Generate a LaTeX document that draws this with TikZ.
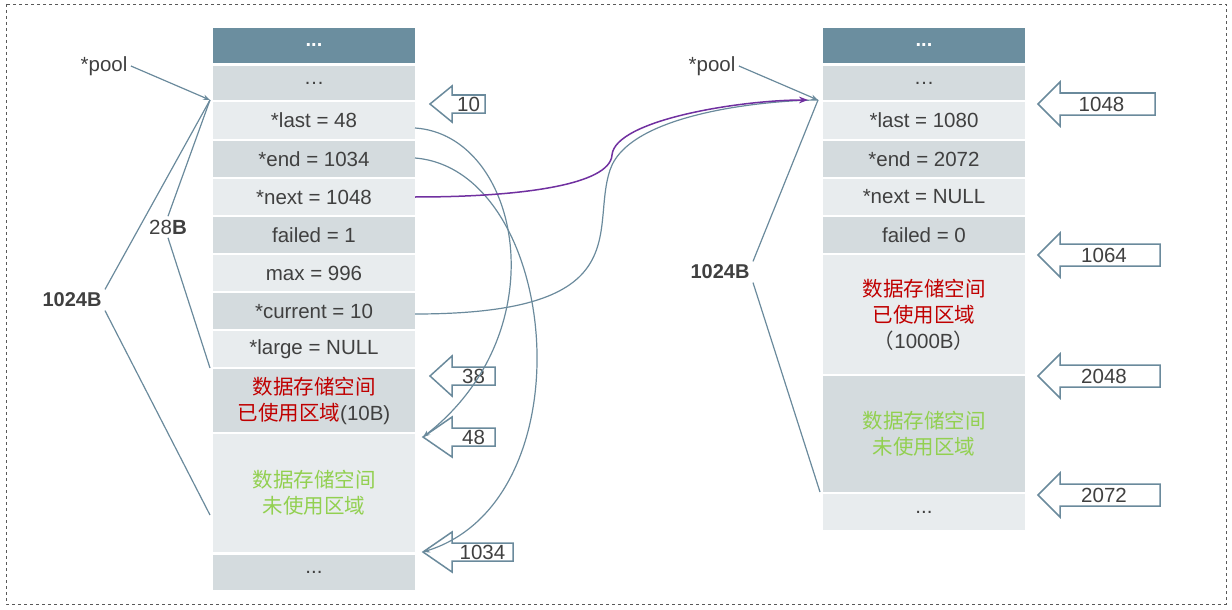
\documentclass[tikz,border=0pt]{standalone}
\usepackage{fontspec}
\setmainfont{Liberation Sans}
\newfontfamily\cjk{Noto Sans CJK SC}
\usetikzlibrary{arrows.meta}
\definecolor{hdr}{HTML}{6B8E9F}
\definecolor{gr}{HTML}{D4DBDE}
\definecolor{lt}{HTML}{E8ECEE}
\definecolor{ln}{HTML}{6A8A9C}
\definecolor{pur}{HTML}{7030A0}
\definecolor{txt}{HTML}{404040}
\definecolor{redt}{HTML}{C00000}
\definecolor{grn}{HTML}{92D050}
\begin{document}
\begin{tikzpicture}[x=1pt,y=-1pt,font=\fontsize{20.5}{26}\selectfont,
  cell/.style={text=txt,align=center},
  conn/.style={draw=ln,line width=1.2pt},
  barrow/.style={draw=ln,line width=1.5pt,fill=white}]
\useasboundingbox (0,0) rectangle (1232,610);
\draw[dashed,gray!70!black] (6,4) rectangle (1226,604);
% left column
\newcommand{\cellL}[5]{\fill[#3] (213,#1) rectangle (415,#2); \node[cell] (#4) at (314,{(#1+#2)/2}) {#5};}
\fill[hdr] (213,28) rectangle (415,63); \node[text=white,font=\bfseries\fontsize{20}{23}\selectfont] (lh) at (314,45) {...};
\cellL{66}{100}{gr}{l0}{\dots}
\cellL{102}{139}{lt}{llast}{*last = 48}
\cellL{141}{177}{gr}{lend}{*end = 1034}
\cellL{179}{215}{lt}{lnext}{*next = 1048}
\cellL{217}{253}{gr}{lfail}{failed = 1}
\cellL{255}{291}{lt}{lmax}{max = 996}
\cellL{293}{329}{gr}{lcur}{*current = 10}
\cellL{331}{367}{lt}{llarge}{*large = NULL}
\cellL{369}{432}{gr}{lused}{\textcolor{redt}{\cjk 数据存储空间}\\\textcolor{redt}{\cjk 已使用区域}(10B)}
\cellL{434}{552}{lt}{lfree}{\textcolor{grn}{\cjk 数据存储空间}\\\textcolor{grn}{\cjk 未使用区域}}
\cellL{555}{590}{gr}{lend2}{...}
% right column
\newcommand{\cellR}[5]{\fill[#3] (823,#1) rectangle (1025,#2); \node[cell] (#4) at (924,{(#1+#2)/2}) {#5};}
\fill[hdr] (823,28) rectangle (1025,63); \node[text=white,font=\bfseries\fontsize{20}{23}\selectfont] (rh) at (924,45) {...};
\cellR{66}{100}{gr}{r0}{\dots}
\cellR{102}{139}{lt}{rlast}{*last = 1080}
\cellR{141}{177}{gr}{rend}{*end = 2072}
\cellR{179}{215}{lt}{rnext}{*next = NULL}
\cellR{217}{253}{gr}{rfail}{failed = 0}
\cellR{255}{374}{lt}{rused}{\textcolor{redt}{\cjk 数据存储空间}\\\textcolor{redt}{\cjk 已使用区域}\\\textcolor{txt}{\cjk （}1000B\textcolor{txt}{\cjk ）}}
\cellR{376}{492}{gr}{rfree}{\textcolor{grn}{\cjk 数据存储空间}\\\textcolor{grn}{\cjk 未使用区域}}
\cellR{494}{530}{lt}{rend2}{...}
% block arrows
\newcommand{\barr}[6]{\draw[barrow] (#1,#2) -- (#3,{#2-#5}) -- (#3,{#2-9}) -- (#4,{#2-9}) -- (#4,{#2+9}) -- (#3,{#2+9}) -- (#3,{#2+#5}) -- cycle; \node[text=txt] (#6) at ({(#3+#4)/2},#2) {#6};}
\newcommand{\barrR}[6]{\draw[barrow] (#1,#2) -- (#3,{#2-#5}) -- (#3,{#2-11}) -- (#4,{#2-11}) -- (#4,{#2+11}) -- (#3,{#2+11}) -- (#3,{#2+#5}) -- cycle; \node[text=txt] (#6) at ({(#3+#4)/2-6},#2) {#6};}
\barr{430}{104}{452}{485}{18}{10}
\barr{430}{376}{452}{495}{20}{38}
\barr{423}{437}{452}{495}{20}{48}
\barr{423}{552}{452}{513}{20}{1034}
\barrR{1038}{104}{1060}{1155}{22}{1048}
\barrR{1038}{255}{1060}{1160}{22}{1064}
\barrR{1038}{376}{1060}{1160}{22}{2048}
\barrR{1038}{495}{1060}{1160}{22}{2072}
% labels
\node[text=txt] (pl) at (104,66) {*pool};
\node[text=txt] (pr) at (712,66) {*pool};
\node[text=txt,font=\bfseries\fontsize{20}{23}\selectfont] (k1) at (72,300) {1024B};
\node[text=txt] (k28) at (168,227) {28\textbf{B}};
\node[text=txt,font=\bfseries\fontsize{20}{23}\selectfont] (k2) at (720,272) {1024B};
\coordinate (ltop) at (210,100);
\coordinate (rtop) at (818,100);
\draw[conn,-{Stealth[length=7pt,open]}] (pl.east) -- (ltop);
\draw[conn,-{Stealth[length=7pt,open]}] (pr.east) -- (rtop);
\draw[conn] (ltop) -- (k1.north east);
\draw[conn] (k1.south east) -- (210,515);
\draw[conn] (ltop) -- (k28.north);
\draw[conn] (k28.south) -- (210,368);
\draw[conn] (rtop) -- (k2.north east);
\draw[conn] (k2.south east) -- (820,492);
% curves
\draw[conn,-{Stealth[length=7pt,open]}] (415,128) .. controls (520,135) and (560,330) .. (423,437);
\draw[conn,-{Stealth[length=7pt,open]}] (415,158) .. controls (560,170) and (590,500) .. (423,552);
\draw[conn] (415,314) .. controls (640,314) and (590,230) .. (610,170) .. controls (630,110) and (780,100) .. (rtop);
\draw[draw=pur,line width=1.5pt,-{Stealth[length=9pt]}] (415,197) .. controls (520,197) and (610,185) .. (612,155) .. controls (615,120) and (740,100) .. (808,100);
\end{tikzpicture}
\end{document}
